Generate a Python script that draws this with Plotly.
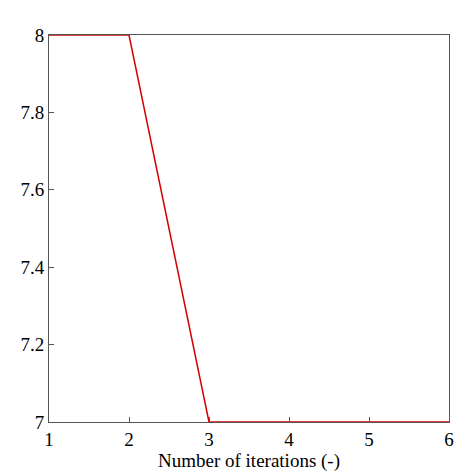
import plotly.graph_objects as go

iterations = [1, 2, 3, 4, 5, 6]
values = [8, 8, 7, 7, 7, 7]
x_ticks = [1, 2, 3, 4, 5, 6]
y_ticks = [7, 7.2, 7.4, 7.6, 7.8, 8]
y_tick_labels = ["7", "7.2", "7.4", "7.6", "7.8", "8"]

fig = go.Figure(go.Scatter(x=iterations, y=values, mode="lines",
                           line=dict(color="#d40000", width=1.5)))
axis_common = dict(showgrid=False, zeroline=False, showline=True, mirror=True,
                   linecolor="#555555", linewidth=1, ticks="inside", ticklen=5,
                   tickcolor="#555555", tickfont=dict(family="Liberation Serif", size=19, color="black"))
fig.update_xaxes(range=[1, 6], tickvals=x_ticks,
                 title=dict(text="Number of iterations (-)", standoff=0,
                            font=dict(family="Liberation Serif", size=19, color="black")),
                 **axis_common)
fig.update_yaxes(range=[7, 8], tickvals=y_ticks, ticktext=y_tick_labels, **axis_common)
fig.update_layout(width=474, height=474, plot_bgcolor="white", paper_bgcolor="white",
                  margin=dict(l=36, r=33, t=27, b=60), showlegend=False)
fig.write_html("out.html")
